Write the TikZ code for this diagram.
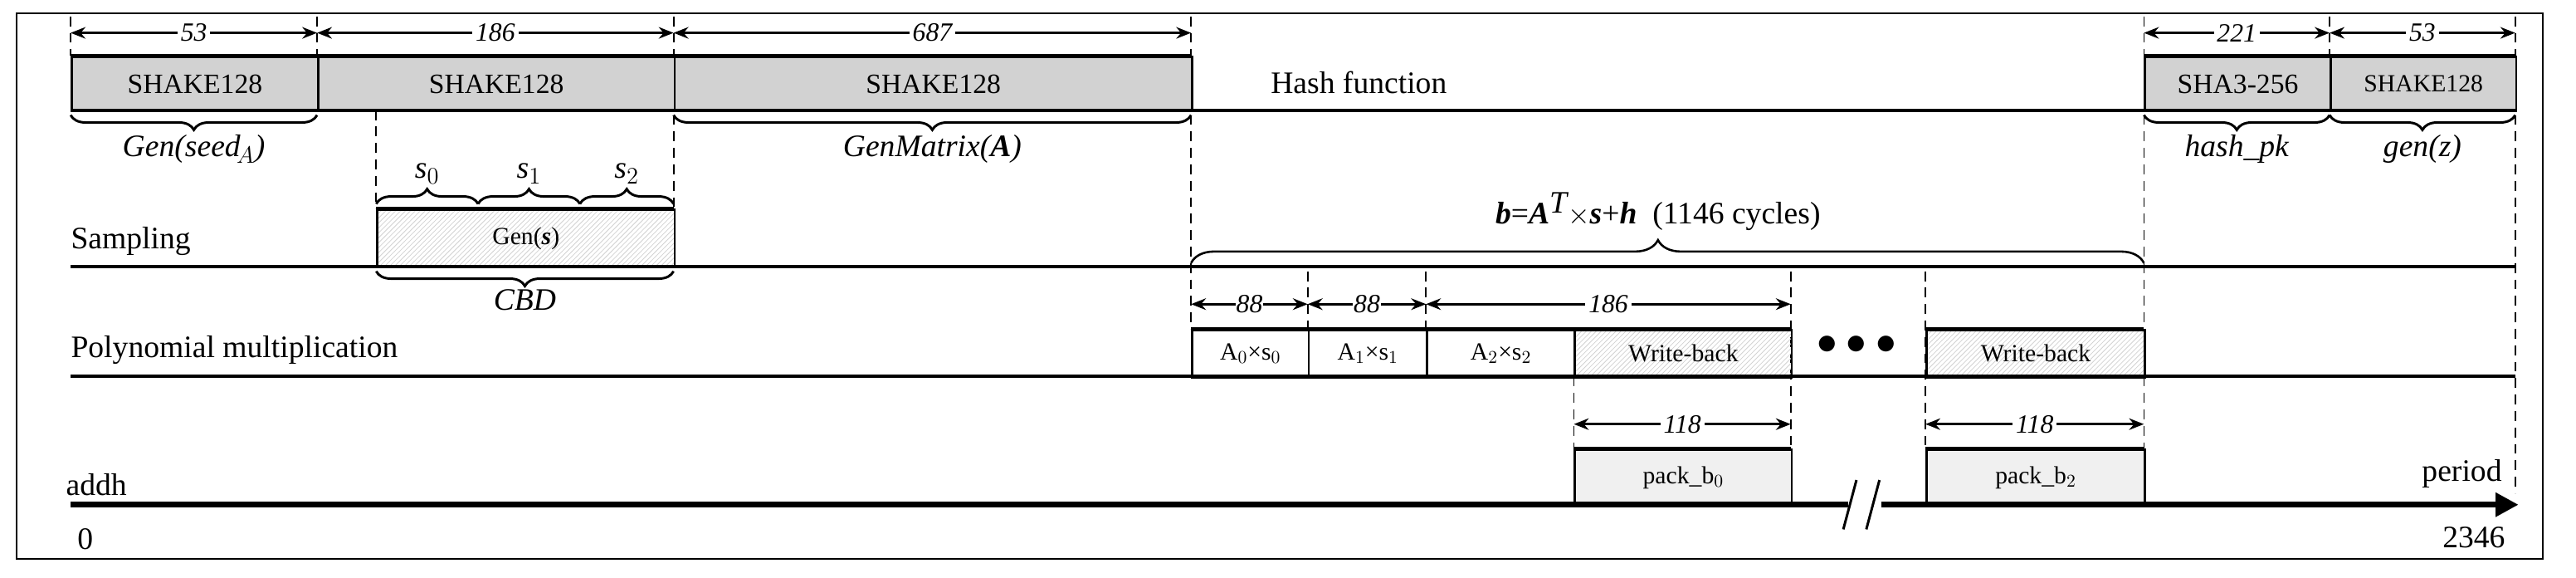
\documentclass[tikz,border=0pt]{standalone}
\usepackage{fontspec}
\setmainfont{Liberation Serif}
\usetikzlibrary{decorations.pathreplacing,patterns,arrows.meta}
\begin{document}
\begin{tikzpicture}[x=1pt,y=-1pt,
  txt/.style={font=\fontsize{17}{20}\selectfont},
  lab/.style={font=\fontsize{19}{22}\selectfont\itshape},
  dim/.style={{Stealth[length=9pt,width=7pt]}-{Stealth[length=9pt,width=7pt]},line width=1.6pt},
  dl/.style={fill=white,inner sep=2pt,font=\fontsize{16}{18}\selectfont\itshape},
  dsh/.style={dashed,line width=0.9pt,dash pattern=on 6pt off 4pt},
  gbox/.style={draw,line width=1.3pt,fill=gray!35},
  lbox/.style={draw,line width=1.3pt,fill=gray!12},
  hbox/.style={draw,line width=1.3pt,pattern=north east lines,pattern color=gray!35},
  wbox/.style={draw,line width=1.3pt,fill=white},
  thick line/.style={line width=2pt},
  br/.style={decorate,decoration={brace,amplitude=9pt},line width=1.5pt},
]
\useasboundingbox (0,0) rectangle (1568,351.1);
\draw[line width=1pt] (10,8) rectangle (1548,340);
% dashed verticals
\foreach \x/\a/\b in {43/10/34,193/10/34,410/10/127,725/10/200,1305/10/200,1418/10/34,1531/10/300,229/67/127,796/165/200,868/165/200,958/229/273,1090/165/273,1172/165/273,1305/229/273}
  \draw[dsh] (\x,\a) -- (\x,\b);
% row 1
\node[gbox,minimum width=150pt,minimum height=33pt,anchor=north west,txt] (s1) at (43,34) {SHAKE128};
\node[gbox,minimum width=217pt,minimum height=33pt,anchor=north west,txt] (s2) at (193,34) {SHAKE128};
\node[gbox,minimum width=315pt,minimum height=33pt,anchor=north west,txt] (s3) at (410,34) {SHAKE128};
\node[gbox,minimum width=113pt,minimum height=33pt,anchor=north west,txt] (s4) at (1305,34) {SHA3-256};
\node[gbox,minimum width=113pt,minimum height=33pt,anchor=north west,font=\fontsize{15}{18}\selectfont] (s5) at (1418,34) {SHAKE128};
\draw[thick line] (43,34) -- (725,34) (1305,34) -- (1531,34);
\draw[thick line] (43,67) -- (1531,67);
\node[txt,font=\fontsize{19}{22}\selectfont,anchor=west] (hf) at (770,50) {Hash function};
% dims row 1
\foreach \a/\b/\t/\n in {43/193/53/d1,193/410/186/d2,410/725/687/d3,1305/1418/221/d4,1418/1531/53/d5}{
  \coordinate (\n a) at (\a,20); \coordinate (\n b) at (\b,20);
  \draw[dim] (\n a) -- (\n b) node[midway,dl] {\t};}
% braces below row1
\draw[br] (193,70) -- (43,70) node[midway,below=8pt,lab] (g1) {Gen(seed$_{\!A}$)};
\draw[br] (725,70) -- (410,70) node[midway,below=8pt,lab] (g2) {GenMatrix(\textbf{\textit{A}})};
\draw[br] (1418,70) -- (1305,70) node[midway,below=8pt,lab] (g3) {hash\_pk};
\draw[br] (1531,70) -- (1418,70) node[midway,below=8pt,lab] (g4) {gen(z)};
% sampling
\node[hbox,minimum width=181pt,minimum height=35pt,anchor=north west,font=\fontsize{15}{18}\selectfont] (gs) at (229,127) {Gen(\textbf{\textit{s}})};
\draw[thick line] (229,127) -- (410,127);
\draw[thick line] (43,162) -- (1531,162);
\node[txt,font=\fontsize{19}{22}\selectfont,anchor=west,inner sep=0pt] (samp) at (43,147) {Sampling};
\draw[br] (229,124) -- (291,124) node[midway,above=8pt,lab] {s$_0$};
\draw[br] (291,124) -- (353,124) node[midway,above=8pt,lab] {s$_1$};
\draw[br] (353,124) -- (410,124) node[midway,above=8pt,lab] {s$_2$};
\draw[br] (410,165) -- (229,165) node[midway,below=7pt,lab] (cbd) {CBD};
% big brace
\draw[decorate,decoration={brace,amplitude=14pt,aspect=0.49},line width=1.3pt] (725,160) -- (1305,160)
  node[pos=0.49,above=16pt,font=\fontsize{19}{22}\selectfont] (beq) {\textbf{\textit{b}}=\textbf{\textit{A}}$^{\textit{T}}$$\times$\textbf{\textit{s}}+\textbf{\textit{h}}\ \ (1146 cycles)};
% poly row
\node[wbox,minimum width=71pt,minimum height=29pt,anchor=north west,font=\fontsize{15}{18}\selectfont] (m0) at (725,200) {A$_0$×s$_0$};
\node[wbox,minimum width=72pt,minimum height=29pt,anchor=north west,font=\fontsize{15}{18}\selectfont] (m1) at (796,200) {A$_1$×s$_1$};
\node[wbox,minimum width=90pt,minimum height=29pt,anchor=north west,font=\fontsize{15}{18}\selectfont] (m2) at (868,200) {A$_2$×s$_2$};
\node[hbox,minimum width=132pt,minimum height=29pt,anchor=north west,font=\fontsize{15}{18}\selectfont] (w0) at (958,200) {Write-back};
\node[hbox,minimum width=133pt,minimum height=29pt,anchor=north west,font=\fontsize{15}{18}\selectfont] (w2) at (1172,200) {Write-back};
\draw[thick line] (725,200) -- (1090,200) (1172,200) -- (1305,200);
\node[font=\fontsize{30}{30}\selectfont] (dots) at (1130,210) {$\bullet\bullet\bullet$};
\draw[thick line] (43,229) -- (1531,229);
\node[font=\fontsize{19}{22}\selectfont,anchor=west,inner sep=0pt] (poly) at (43,213) {Polynomial multiplication};
\draw[dim] (725,185) -- (796,185) node[midway,dl,inner sep=0.5pt] {88};
\draw[dim] (796,185) -- (868,185) node[midway,dl,inner sep=0.5pt] {88};
\draw[dim] (868,185) -- (1090,185) node[midway,dl] {186};
\draw[dim] (958,258) -- (1090,258) node[midway,dl] {118};
\draw[dim] (1172,258) -- (1305,258) node[midway,dl] {118};
% addh row
\node[lbox,minimum width=132pt,minimum height=34pt,anchor=north west,font=\fontsize{15}{18}\selectfont] (p0) at (958,273) {pack\_b$_0$};
\node[lbox,minimum width=133pt,minimum height=34pt,anchor=north west,font=\fontsize{15}{18}\selectfont] (p2) at (1172,273) {pack\_b$_2$};
\draw[thick line] (958,273) -- (1090,273) (1172,273) -- (1305,273);
\coordinate (t0) at (43,307); \coordinate (t1) at (1533,307);
\draw[line width=3.5pt,-{Triangle[length=14pt,width=14pt]}] (t0) -- (t1);
\fill[white] (1125,300) rectangle (1145,314);
\draw[line width=1.5pt] (1122,322) -- (1130,292) (1136,322) -- (1144,292);
\node[font=\fontsize{19}{22}\selectfont,anchor=west,inner sep=0pt] (addh) at (40,295) {addh};
\node[font=\fontsize{19}{22}\selectfont,anchor=west,inner sep=0pt] (zero) at (47,328) {0};
\node[font=\fontsize{19}{22}\selectfont,anchor=east,inner sep=0pt] (per) at (1523,288) {period};
\node[font=\fontsize{19}{22}\selectfont,anchor=east,inner sep=0pt] (end) at (1525,327) {2346};
\end{tikzpicture}
\end{document}
